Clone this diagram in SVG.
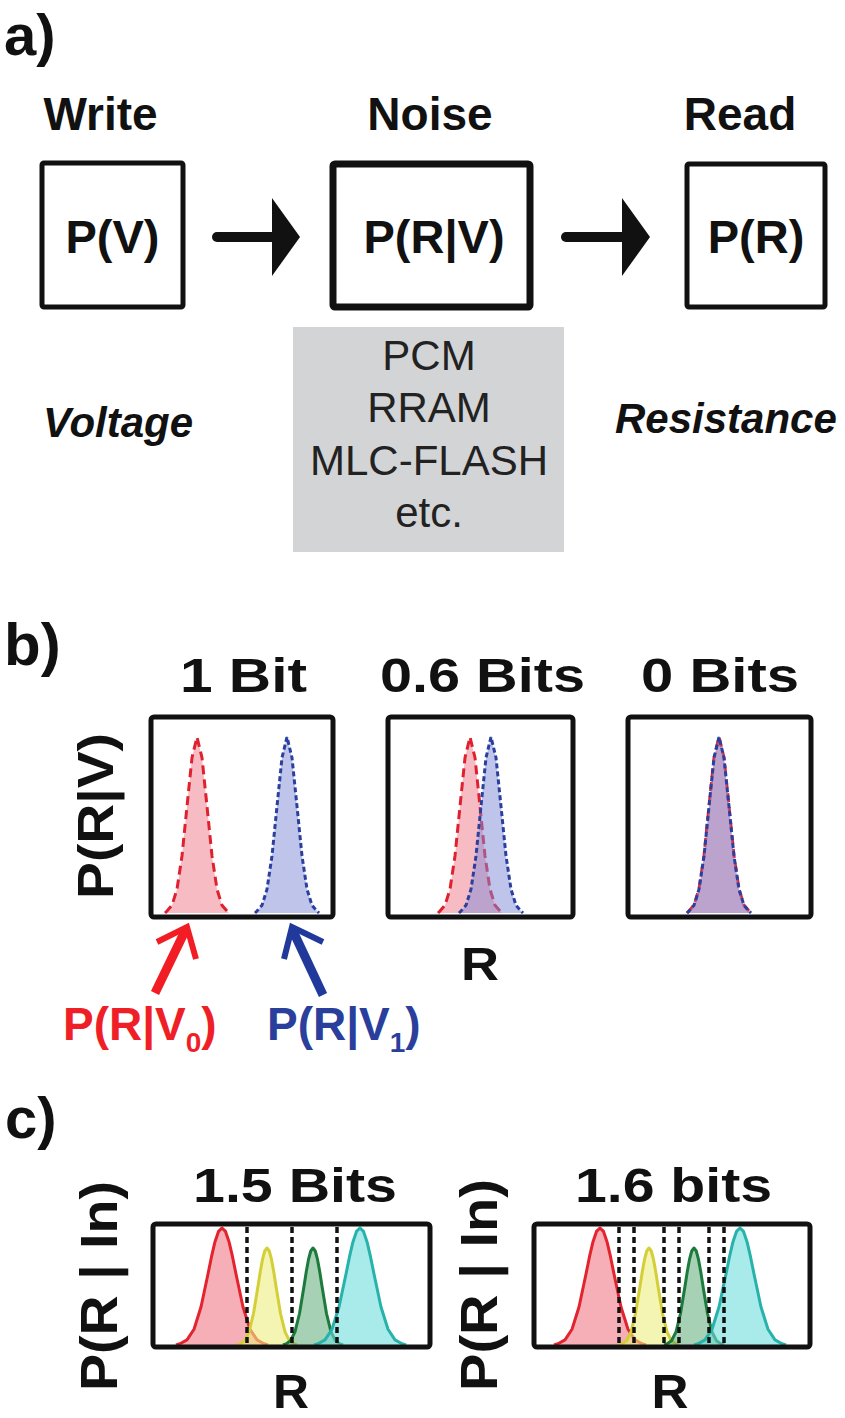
<svg xmlns="http://www.w3.org/2000/svg" width="845" height="1418" viewBox="0 0 845 1418">
<style>
text{font-family:"Liberation Sans",Arial,sans-serif;}
.b{font-weight:bold;fill:#111;}
.lbl{font-weight:bold;fill:#111;font-size:62px;}
.box{fill:none;stroke:#111;stroke-width:5;stroke-linejoin:round;}
.plot{fill:none;stroke:#111;stroke-width:5;}
.gray{fill:#d3d4d6;}
.dev{font-size:42px;fill:#222;text-anchor:middle;}
.it{font-weight:bold;font-style:italic;font-size:42px;fill:#111;}
.rf{fill:#f07a88;fill-opacity:0.5;stroke:#e0202e;stroke-width:3;stroke-dasharray:9 5;}
.bf{fill:#7f8ad8;fill-opacity:0.5;stroke:#2b3f9e;stroke-width:3;stroke-dasharray:5 3;}
.rr{fill:#f07a86;fill-opacity:0.6;stroke:#e3232e;stroke-width:3;stroke-linejoin:round;}
.yy{fill:#ecec80;fill-opacity:0.6;stroke:#d4cf38;stroke-width:3;stroke-linejoin:round;}
.gg{fill:#4fa46a;fill-opacity:0.5;stroke:#1b7a3c;stroke-width:3;stroke-linejoin:round;}
.cc{fill:#6fdcdc;fill-opacity:0.6;stroke:#27b2ac;stroke-width:3;stroke-linejoin:round;}
.dl{stroke:#111;stroke-width:3.5;stroke-dasharray:6 4;}
</style>

<!-- section labels -->
<text class="lbl" x="4" y="55" style="font-size:58px">a)</text>
<text class="lbl" x="4" y="665" style="font-size:60px">b)</text>
<text class="lbl" x="5" y="1138" style="font-size:58px">c)</text>

<!-- Section a -->
<g id="write">
  <text class="b" x="100.5" y="130" font-size="46" text-anchor="middle">Write</text>
  <rect class="box" x="42" y="163" width="141" height="144" rx="2"/>
  <text class="b" x="112.5" y="253" font-size="47" text-anchor="middle">P(V)</text>
  <text class="it" x="43" y="437">Voltage</text>
</g>
<g id="noise">
  <text class="b" x="430" y="130" font-size="46" text-anchor="middle">Noise</text>
  <rect class="box" x="333" y="164" width="197" height="143" rx="2" style="stroke-width:7"/>
  <text class="b" x="434" y="253" font-size="47" text-anchor="middle">P(R|V)</text>
</g>
<g id="devices">
  <rect class="gray" x="293" y="327" width="271" height="225"/>
  <text class="dev" x="429" y="370">PCM</text>
  <text class="dev" x="429" y="422">RRAM</text>
  <text class="dev" x="429" y="475">MLC-FLASH</text>
  <text class="dev" x="429" y="527">etc.</text>
</g>
<g id="read">
  <text class="b" x="740" y="130" font-size="46" text-anchor="middle">Read</text>
  <rect class="box" x="687" y="164" width="138" height="143" rx="2"/>
  <text class="b" x="756" y="253" font-size="47" text-anchor="middle">P(R)</text>
  <text class="it" x="615" y="433">Resistance</text>
</g>

<g id="connectors">
  <line x1="217" y1="237" x2="276" y2="237" stroke="#111" stroke-width="10" stroke-linecap="round"/>
  <polygon points="272,198 300,237 272,276" fill="#111"/>
  <line x1="566" y1="237" x2="626" y2="237" stroke="#111" stroke-width="10" stroke-linecap="round"/>
  <polygon points="622,198 650,237 622,276" fill="#111"/>
  <!-- b) pointer arrows -->
  <line x1="155" y1="993" x2="185" y2="931" stroke="#f21d24" stroke-width="9"/>
  <polyline points="157,942 187,927 196,959" fill="none" stroke="#f21d24" stroke-width="6" stroke-linejoin="miter"/>
  <line x1="323" y1="995" x2="293" y2="931" stroke="#21399a" stroke-width="9"/>
  <polyline points="284,959 292,927 323,942" fill="none" stroke="#21399a" stroke-width="6" stroke-linejoin="miter"/>
</g>

<!-- Section b -->
<g id="b-ylabel">
  <text class="b" transform="translate(113,816) rotate(-90)" font-size="50" text-anchor="middle" textLength="166" lengthAdjust="spacingAndGlyphs">P(R|V)</text>
</g>
<g id="plot-1bit">
  <text class="b" x="243.5" y="692" font-size="49" text-anchor="middle" textLength="127" lengthAdjust="spacingAndGlyphs">1 Bit</text>
  <polyline class="rf" points="165,913 167,911 172,905.3 177,889.2 182,855.9 187,806.3 192,757.7 197,737 202,757.7 207,806.3 212,855.9 217,889.2 222,905.3 227,911 229,913"/>
  <polyline class="bf" points="255,913 257,911 262,905.3 267,889.2 272,855.9 277,806.3 282,757.7 287,737 292,757.7 297,806.3 302,855.9 307,889.2 312,905.3 317,911 319,913"/>
  <rect class="plot" x="151" y="717" width="182" height="200" rx="3"/>
</g>
<g id="plot-06bits">
  <text class="b" x="482.5" y="692" font-size="49" text-anchor="middle" textLength="205" lengthAdjust="spacingAndGlyphs">0.6 Bits</text>
  <polyline class="rf" points="438,913 440,911 445,905.3 450,889.2 455,855.9 460,806.3 465,757.7 470,737 475,757.7 480,806.3 485,855.9 490,889.2 495,905.3 500,911 502,913"/>
  <polyline class="bf" points="459,913 461,911 466,905.3 471,889.2 476,855.9 481,806.3 486,757.7 491,737 496,757.7 501,806.3 506,855.9 511,889.2 516,905.3 521,911 523,913"/>
  <rect class="plot" x="388" y="717" width="185" height="200" rx="3"/>
  <text class="b" x="480" y="980" font-size="46" text-anchor="middle" textLength="38" lengthAdjust="spacingAndGlyphs">R</text>
</g>
<g id="plot-0bits">
  <text class="b" x="720" y="692" font-size="49" text-anchor="middle" textLength="158" lengthAdjust="spacingAndGlyphs">0 Bits</text>
  <polyline class="rf" points="687,913 689,911 694,905.3 699,889.2 704,855.9 709,806.3 714,757.7 719,737 724,757.7 729,806.3 734,855.9 739,889.2 744,905.3 749,911 751,913"/>
  <polyline class="bf" points="687,913 689,911 694,905.3 699,889.2 704,855.9 709,806.3 714,757.7 719,737 724,757.7 729,806.3 734,855.9 739,889.2 744,905.3 749,911 751,913"/>
  <rect class="plot" x="628" y="717" width="183" height="200" rx="3"/>
</g>
<g id="b-legend">
  <text x="63" y="1040" font-size="46" font-weight="bold" fill="#ef1f28">P(R|V<tspan font-size="28" dy="12">0</tspan><tspan dy="-12">)</tspan></text>
  <text x="267" y="1040" font-size="46" font-weight="bold" fill="#2a3f9c">P(R|V<tspan font-size="28" dy="12">1</tspan><tspan dy="-12">)</tspan></text>
</g>

<!-- Section c -->
<g id="plot-15bits">
  <text class="b" transform="translate(117,1286) rotate(-90)" font-size="52" text-anchor="middle" textLength="210" lengthAdjust="spacingAndGlyphs">P(R | In)</text>
  <text class="b" x="295" y="1202" font-size="48" text-anchor="middle" textLength="204" lengthAdjust="spacingAndGlyphs">1.5 Bits</text>
  <polyline class="rr" points="176,1345 180,1343.7 187,1339.9 194,1329.2 201,1307 208,1274 211.5,1256.7 215,1241.7 218.5,1231.4 222,1228 225.5,1231.4 229,1241.7 232.5,1256.7 236,1274 243,1307 250,1329.2 257,1339.9 264,1343.7 268,1345"/>
  <polyline class="yy" points="237,1345 240,1343.9 244.5,1340.7 249,1331.9 253.5,1313.5 258,1286.2 260.25,1271.8 262.5,1259.4 264.75,1251 267,1248 269.25,1251 271.5,1259.4 273.75,1271.8 276,1286.2 280.5,1313.5 285,1331.9 289.5,1340.7 294,1343.9 297,1345"/>
  <polyline class="gg" points="283,1345 286,1343.9 290.5,1340.7 295,1331.9 299.5,1313.5 304,1286.2 306.25,1271.8 308.5,1259.4 310.75,1251 313,1248 315.25,1251 317.5,1259.4 319.75,1271.8 322,1286.2 326.5,1313.5 331,1331.9 335.5,1340.7 340,1343.9 343,1345"/>
  <polyline class="cc" points="314,1345 318,1343.7 325,1339.9 332,1329.2 339,1307 346,1274 349.5,1256.7 353,1241.7 356.5,1231.4 360,1228 363.5,1231.4 367,1241.7 370.5,1256.7 374,1274 381,1307 388,1329.2 395,1339.9 402,1343.7 406,1345"/>
  <line class="dl" x1="247" y1="1227" x2="247" y2="1346"/>
  <line class="dl" x1="292" y1="1227" x2="292" y2="1346"/>
  <line class="dl" x1="337" y1="1227" x2="337" y2="1346"/>
  <rect class="plot" x="153" y="1224" width="277" height="123" rx="3"/>
  <text class="b" x="291" y="1408" font-size="49" text-anchor="middle" textLength="36" lengthAdjust="spacingAndGlyphs">R</text>
</g>
<g id="plot-16bits">
  <text class="b" transform="translate(497,1285) rotate(-90)" font-size="52" text-anchor="middle" textLength="212" lengthAdjust="spacingAndGlyphs">P(R | In)</text>
  <text class="b" x="673.5" y="1202" font-size="48" text-anchor="middle" textLength="197" lengthAdjust="spacingAndGlyphs">1.6 bits</text>
  <polyline class="rr" points="554,1345 558,1343.7 565,1339.9 572,1329.2 579,1307 586,1274 589.5,1256.7 593,1241.7 596.5,1231.4 600,1228 603.5,1231.4 607,1241.7 610.5,1256.7 614,1274 621,1307 628,1329.2 635,1339.9 642,1343.7 646,1345"/>
  <polyline class="yy" points="619,1345 622,1343.9 626.5,1340.7 631,1331.9 635.5,1313.5 640,1286.2 642.25,1271.8 644.5,1259.4 646.75,1251 649,1248 651.25,1251 653.5,1259.4 655.75,1271.8 658,1286.2 662.5,1313.5 667,1331.9 671.5,1340.7 676,1343.9 679,1345"/>
  <polyline class="gg" points="664,1345 667,1343.9 671.5,1340.7 676,1331.9 680.5,1313.5 685,1286.2 687.25,1271.8 689.5,1259.4 691.75,1251 694,1248 696.25,1251 698.5,1259.4 700.75,1271.8 703,1286.2 707.5,1313.5 712,1331.9 716.5,1340.7 721,1343.9 724,1345"/>
  <polyline class="cc" points="694,1345 698,1343.7 705,1339.9 712,1329.2 719,1307 726,1274 729.5,1256.7 733,1241.7 736.5,1231.4 740,1228 743.5,1231.4 747,1241.7 750.5,1256.7 754,1274 761,1307 768,1329.2 775,1339.9 782,1343.7 786,1345"/>
  <line class="dl" x1="619" y1="1227" x2="619" y2="1346"/>
  <line class="dl" x1="634" y1="1227" x2="634" y2="1346"/>
  <line class="dl" x1="664" y1="1227" x2="664" y2="1346"/>
  <line class="dl" x1="679" y1="1227" x2="679" y2="1346"/>
  <line class="dl" x1="709" y1="1227" x2="709" y2="1346"/>
  <line class="dl" x1="724" y1="1227" x2="724" y2="1346"/>
  <rect class="plot" x="534" y="1224" width="276" height="123" rx="3"/>
  <text class="b" x="670" y="1408" font-size="49" text-anchor="middle" textLength="37" lengthAdjust="spacingAndGlyphs">R</text>
</g>
</svg>
